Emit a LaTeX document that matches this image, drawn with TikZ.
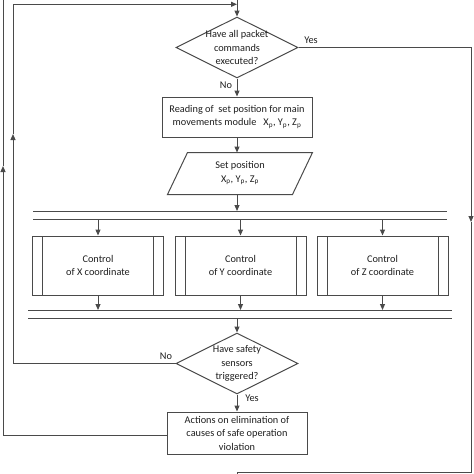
\documentclass[tikz,border=0pt]{standalone}
\usepackage{fontspec}
\setmainfont{Carlito}
\usepackage{tikz}
\usetikzlibrary{positioning,
                calc,
                shapes.geometric,
                arrows.meta}
\definecolor{lineGray}{HTML}{4A4A4A}
\definecolor{textGray}{HTML}{1E1E1E}

\begin{document}
\begin{tikzpicture}[x=1pt,y=-1pt]

%--------------------------------------------------
% STYLES
%--------------------------------------------------

\tikzset{
line/.style={draw=lineGray,line width=1pt},
flow/.style={line,-{Triangle[length=6pt,width=5pt]}},
procbox/.style={
line,
rectangle,
minimum width=150pt,
minimum height=40pt,
align=center,
font=\fontsize{10.3}{13.5}\selectfont,
text=textGray,
inner sep=1pt
},
subproc/.style={
procbox,
minimum width=131pt,
minimum height=59pt,
path picture={
\draw[line]
([xshift=10pt]path picture bounding box.north west)--
([xshift=10pt]path picture bounding box.south west);
\draw[line]
([xshift=-10pt]path picture bounding box.north east)--
([xshift=-10pt]path picture bounding box.south east);
}
},
decision/.style={
line,
diamond,
minimum width=122pt,
minimum height=61pt,
inner sep=0pt
},
dtext/.style={
align=center,
font=\fontsize{10.3}{13.2}\selectfont,
text=textGray,
inner sep=0pt
},
tag/.style={
font=\fontsize{10.3}{12}\selectfont,
text=textGray,
inner sep=0pt
}
}

\useasboundingbox (0,0) rectangle (474,474);

%--------------------------------------------------
% MAIN COLUMN
%--------------------------------------------------

\node[decision] (qdone) at (237,47.5) {};
\node[dtext] (qdonetxt) at (qdone)
{Have all packet\\commands\\executed?};

\node[procbox] (readpos) at (237,117)
{Reading of \ set position for main\\movements module \ \ X\textsubscript{p}, Y\textsubscript{p}, Z\textsubscript{p}};

\node[procbox,draw=none,minimum width=124pt,minimum height=41pt] (setpos) at (240,173.5)
{Set position\\X\textsubscript{p}, Y\textsubscript{p}, Z\textsubscript{p}};
\draw[line] ([xshift=10pt]setpos.north west) -- ([xshift=10pt]setpos.north east)
 -- ([xshift=-10pt]setpos.south east) -- ([xshift=-10pt]setpos.south west) -- cycle;

%--------------------------------------------------
% PARALLEL BRANCHES
%--------------------------------------------------

\coordinate (forkA) at (237,211);
\coordinate (forkB) at (237,219);
\coordinate (joinA) at (237,310);
\coordinate (joinB) at (237,318);

\draw[line] (33,211) -- (447,211);
\draw[line] (33,219) -- (447,219);
\draw[line] (28,310) -- (452,310);
\draw[line] (28,318) -- (452,318);

\node[subproc] (ctrlx) at (98,265.5) {Control\\of X coordinate};
\node[subproc] (ctrly) at (240.5,265.5) {Control\\of Y coordinate};
\node[subproc] (ctrlz) at (382.5,265.5) {Control\\of Z coordinate};

\node[decision] (qsafe) at (237,363.5) {};
\node[dtext] (qsafetxt) at (qsafe)
{Have safety\\sensors\\triggered?};

\node[procbox,minimum width=140pt,minimum height=42pt] (actions) at (237,433)
{Actions on elimination of\\causes of safe operation\\violation};

%--------------------------------------------------
% CONNECTORS
%--------------------------------------------------

\coordinate (topin) at (237,-8);
\coordinate (innerTL) at (13,4.3);
\coordinate (innerJoin) at (237,4.3);
\coordinate (innerBL) at (13,363.5);
\coordinate (innerMid) at (13,134);
\coordinate (outerBL) at (3,435);
\coordinate (outerMid) at (3,166);
\coordinate (outerTop) at (3,-8);
\coordinate (yesTR) at (471,47.5);
\coordinate (yesMid) at (471,222);
\coordinate (yesBR) at (471,472);
\coordinate (exitL) at (237,472);
\coordinate (exitB) at (237,482);

\draw[flow] (topin) -- (qdone.north);
\draw[flow] (qdone.south) -- (readpos.north);
\draw[flow] (readpos.south) -- (readpos.south |- setpos.north);
\draw[flow] (readpos.south |- setpos.south) -- (forkA);

\draw[flow] (forkB -| ctrlx) -- (ctrlx.north);
\draw[flow] (forkB -| ctrly) -- (ctrly.north);
\draw[flow] (forkB -| ctrlz) -- (ctrlz.north);
\draw[flow] (ctrlx.south) -- (joinA -| ctrlx);
\draw[flow] (ctrly.south) -- (joinA -| ctrly);
\draw[flow] (ctrlz.south) -- (joinA -| ctrlz);

\draw[flow] (joinB) -- (qsafe.north);
\draw[flow] (qsafe.south) -- (actions.north);

% loop back on "No"
\draw[flow] (qsafe.west) -- (innerBL) -- (innerMid);
\draw[flow] (innerMid) -- (innerTL) -- (innerJoin);

% loop back after actions
\draw[flow] (actions.west |- outerBL) -- (outerBL) -- (outerMid);
\draw[line] (outerMid) -- (outerTop);

% exit on "Yes"
\draw[flow] (qdone.east) -- (yesTR) -- (yesMid);
\draw[line] (yesMid) -- (yesBR) -- (exitL) -- (exitB);

%--------------------------------------------------
% LABELS
%--------------------------------------------------

\node[tag] (yesdone) at (311,40) {Yes};
\node[tag] (nodone) at (226,85) {No};
\node[tag] (nosafe) at (166,356) {No};
\node[tag] (yessafe) at (252,398) {Yes};

\end{tikzpicture}
\end{document}
